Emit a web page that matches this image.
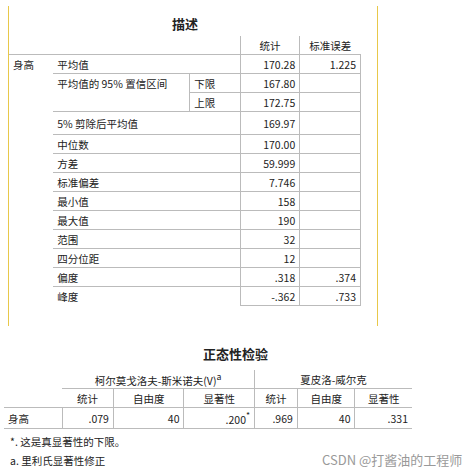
<!DOCTYPE html>
<html><head><meta charset="utf-8">
<script src="https://cdn.jsdelivr.net/npm/chart.js@4"></script>
<style>
body{margin:0;width:474px;height:474px;background:#fff;font-family:"Noto Sans CJK SC","Liberation Sans",sans-serif;font-size:10.5px;color:#222;position:relative;overflow:hidden}
table{border-collapse:collapse;position:absolute}
td{height:18px;padding:0 4px;white-space:nowrap}
.num{text-align:right}
.title{position:absolute;font-weight:bold;font-size:13px}
#box{position:absolute;left:8px;top:6px;width:368px;height:320px;border-left:1px solid #e8c84a;border-right:1px solid #e8c84a}
</style></head><body>
<div id="box"></div>
<div class="title" style="left:172px;top:14px">描述</div>
<table id="t1" style="left:9px;top:36px;width:352px"></table>
<div class="title" style="left:203px;top:344px">正态性检验</div>
<table id="t2" style="left:4px;top:370px;width:408px"></table>
<div style="position:absolute;left:10px;top:434px">*. 这是真显著性的下限。</div>
<div style="position:absolute;left:10px;top:453px">a. 里利氏显著性修正</div>
<div style="position:absolute;left:322px;top:450px;font-size:13px;color:#999">CSDN @打酱油的工程师</div>
<script>
// descriptive stats
const descLabels = ['平均值','平均值的 95% 置信区间','','5% 剪除后平均值','中位数','方差','标准偏差','最小值','最大值','范围','四分位距','偏度','峰度'];
const descSub = ['','下限','上限','','','','','','','','','',''];
const descStat = ['170.28','167.80','172.75','169.97','170.00','59.999','7.746','158','190','32','12','.318','-.362'];
const descErr = ['1.225','','','','','','','','','','','.374','.733'];
// normality test
const normHead = ['统计','自由度','显著性','统计','自由度','显著性'];
const normVals = ['.079','40','.200*','.969','40','.331'];

const b = '1px solid #bbb';
let h = `<tr><td style="width:36px;height:17px"></td><td style="width:128px"></td><td style="width:42px"></td><td style="width:50px;border-left:${b};text-align:center">统计</td><td style="width:52px;border-left:${b};text-align:center">标准误差</td></tr>`;
descLabels.forEach((l, i) => {
  h += `<tr><td style="height:${i===3?23:18.5}px;${i===0?'border-top:'+b:''}">${i===0?'身高':''}</td>`+
    `<td style="border-top:${i===2?'none':b}">${l}</td>`+
    `<td style="border-top:${b};border-left:${descSub[i]?b:'none'}">${descSub[i]}</td>`+
    `<td class="num" style="border:${b}">${descStat[i]}</td>`+
    `<td class="num" style="border:${b}">${descErr[i]}</td></tr>`;
});
document.getElementById('t1').innerHTML = h;

let n = `<tr><td style="width:50px"></td><td colspan="3" style="text-align:center;border-bottom:${b};border-right:${b}">柯尔莫戈洛夫-斯米诺夫(V)<sup>a</sup></td><td colspan="3" style="text-align:center;border-bottom:${b}">夏皮洛-威尔克</td></tr><tr><td></td>`;
normHead.forEach((t, i) => n += `<td style="text-align:center;border-right:${i<5?b:'none'}">${t}</td>`);
n += `</tr><tr><td style="border-top:${b};border-bottom:${b};height:20px">身高</td>`;
normVals.forEach((v, i) => {
  const s = v.endsWith('*') ? v.slice(0,-1)+'<sup>*</sup>' : v;
  n += `<td class="num" style="border:${b};border-right:${i<5?b:'none'}">${s}</td>`;
});
n += '</tr>';
document.getElementById('t2').innerHTML = n;
</script>
</body></html>
